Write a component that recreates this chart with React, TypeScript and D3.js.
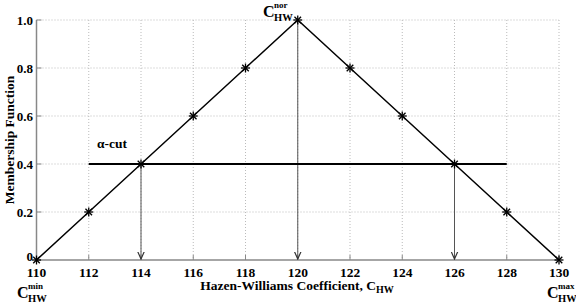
import React from "react";
import * as d3 from "d3";

const xValues = [110, 112, 114, 116, 118, 120, 122, 124, 126, 128, 130];
const membership = [0, 0.2, 0.4, 0.6, 0.8, 1.0, 0.8, 0.6, 0.4, 0.2, 0];
const yTicks = [0, 0.2, 0.4, 0.6, 0.8, 1.0];
const yTickLabels = ["0", "0.2", "0.4", "0.6", "0.8", "1.0"];
const alphaLevel = 0.4;
const alphaRange = [112, 128];
const arrowXs = [114, 120, 126];
const arrowTops = [0.4, 1.0, 0.4];

export default function App() {
  const W = 576, H = 306;
  const x = d3.scaleLinear().domain([110, 130]).range([36.5, 559]);
  const y = d3.scaleLinear().domain([0, 1]).range([260, 20]);
  const line = d3.line<number>().x((_, i) => x(xValues[i])).y((d) => y(d));
  const font = "Liberation Serif, Times New Roman, DejaVu Serif, serif";
  const star = (cx: number, cy: number, k: number) => {
    const r = 4.5, q = 3.3;
    return (
      <g key={k} stroke="#000" strokeWidth={1.3}>
        <line x1={cx - r} y1={cy} x2={cx + r} y2={cy} />
        <line x1={cx} y1={cy - r} x2={cx} y2={cy + r} />
        <line x1={cx - q} y1={cy - q} x2={cx + q} y2={cy + q} />
        <line x1={cx - q} y1={cy + q} x2={cx + q} y2={cy - q} />
      </g>
    );
  };
  return (
    <svg width={W} height={H} style={{ position: "absolute", left: 0, top: 0, background: "#fff", fontFamily: font, fontWeight: "bold" }}>
      <defs>
        <marker id="arr" viewBox="0 0 10 10" refX="9" refY="5" markerWidth="8" markerHeight="8" orient="auto" markerUnits="userSpaceOnUse">
          <path d="M0,1 L9,5 L0,9" fill="none" stroke="#333" strokeWidth={1.5} />
        </marker>
      </defs>
      {/* grid */}
      {xValues.slice(1).map((v) => (
        <line key={"gx" + v} x1={x(v)} x2={x(v)} y1={y(1)} y2={y(0)} stroke="#bbb" strokeWidth={1} strokeDasharray="1,2" />
      ))}
      {yTicks.slice(1).map((v) => (
        <line key={"gy" + v} x1={x(110)} x2={x(130)} y1={y(v)} y2={y(v)} stroke="#bbb" strokeWidth={1} strokeDasharray="1,2" />
      ))}
      {/* axes */}
      <line x1={x(110)} x2={x(110)} y1={y(1)} y2={y(0)} stroke="#888" strokeWidth={1.5} />
      <line x1={x(110)} x2={x(130)} y1={y(0)} y2={y(0)} stroke="#888" strokeWidth={1.5} />
      {xValues.map((v) => (
        <line key={"tx" + v} x1={x(v)} x2={x(v)} y1={y(0)} y2={y(0) - 5} stroke="#888" strokeWidth={1} />
      ))}
      {yTicks.map((v) => (
        <line key={"ty" + v} x1={x(110)} x2={x(110) + 5} y1={y(v)} y2={y(v)} stroke="#888" strokeWidth={1} />
      ))}
      {/* arrows */}
      {arrowXs.map((v, i) => (
        <line key={"ar" + v} x1={x(v)} x2={x(v)} y1={y(arrowTops[i])} y2={y(0) - 1} stroke="#555" strokeWidth={1} markerEnd="url(#arr)" />
      ))}
      {/* alpha cut */}
      <line x1={x(alphaRange[0])} x2={x(alphaRange[1])} y1={y(alphaLevel)} y2={y(alphaLevel)} stroke="#000" strokeWidth={2.2} />
      {/* membership */}
      <path d={line(membership) || ""} fill="none" stroke="#000" strokeWidth={1.5} />
      {membership.map((d, i) => star(x(xValues[i]), y(d), i))}
      {/* tick labels */}
      {xValues.map((v) => (
        <text key={"lx" + v} x={x(v)} y={276.5} fontSize={13.5} textAnchor="middle">{v}</text>
      ))}
      {yTicks.map((v, i) => (
        <text key={"ly" + v} x={33} y={i === 0 ? y(v) + 1 : y(v) + 4.5} fontSize={13} textAnchor="end">{yTickLabels[i]}</text>
      ))}
      <text x={97} y={148} fontSize={13.5}>α-cut</text>
      <text transform={`translate(14,${y(0.5)}) rotate(-90)`} fontSize={13.5} textAnchor="middle">Membership Function</text>
      <text x={297} y={290} fontSize={13.5} textAnchor="middle">
        Hazen-Williams Coefficient, C<tspan fontSize={10} dy={3}>HW</tspan>
      </text>
      {/* C_HW labels */}
      <g fontSize={16}>
        <text x={17} y={298}>C</text>
        <text x={28} y={289} fontSize={9}>min</text>
        <text x={28} y={302} fontSize={10.5}>HW</text>
      </g>
      <g fontSize={16}>
        <text x={547} y={298}>C</text>
        <text x={558} y={289} fontSize={9}>max</text>
        <text x={558} y={302} fontSize={10.5}>HW</text>
      </g>
      <g fontSize={16}>
        <text x={263} y={17}>C</text>
        <text x={274} y={8} fontSize={9}>nor</text>
        <text x={274} y={21} fontSize={10.5}>HW</text>
      </g>
    </svg>
  );
}
